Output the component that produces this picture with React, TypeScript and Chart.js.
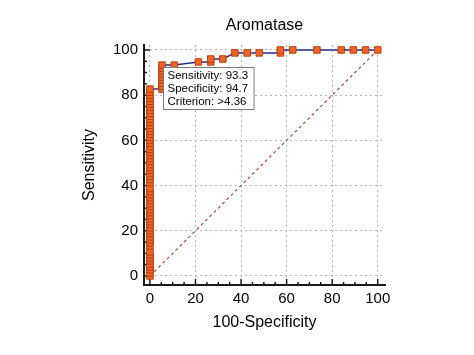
import React, { useEffect, useRef } from "react";
import { Chart, registerables } from "chart.js";

Chart.register(...registerables);

const chartTitle = "Aromatase";
const xAxisTitle = "100-Specificity";
const yAxisTitle = "Sensitivity";

const majorTicks = [0, 20, 40, 60, 80, 100];
const minorTicks = [0, 5, 10, 15, 20, 25, 30, 35, 40, 45, 50, 55, 60, 65, 70, 75, 80, 85, 90, 95, 100];

// ROC points at 100-Specificity = 0
const sensAtFpr0 = [
  0, 1.3, 2.7, 4.0, 5.3, 6.7, 8.0, 9.3, 10.7, 13.3, 14.7, 16.0, 17.3, 18.7, 20.0, 21.3,
  22.7, 24.0, 25.3, 26.7, 28.0, 29.3, 30.7, 32.0, 33.3, 34.7, 36.0, 37.3, 38.7, 41.3,
  42.7, 44.0, 45.3, 46.7, 48.0, 49.3, 50.7, 52.0, 53.3, 54.7, 56.0, 57.3, 58.7, 60.0,
  61.3, 62.7, 64.0, 65.3, 66.7, 68.0, 69.3, 70.7, 72.0, 73.3, 74.7, 76.0, 77.3, 78.7,
  80.0, 81.3, 82.7,
];
// ROC points at 100-Specificity = 5.3
const fprSecond = 5.3;
const sensAtFprSecond = [82.7, 84.0, 85.3, 86.7, 88.0, 89.3, 90.7, 92.0, 93.3];
// remaining ROC points
const tailFpr = [10.7, 21.3, 26.7, 26.7, 32.0, 37.3, 42.7, 48.0, 57.3, 57.3, 62.7, 73.3, 84.0, 89.3, 94.7, 100];
const tailSens = [93.3, 94.7, 94.7, 96.0, 96.0, 98.7, 98.7, 98.7, 98.7, 100, 100, 100, 100, 100, 100, 100];

const diagX = [0, 100];
const diagY = [0, 100];

const criterionFpr = 5.3;
const criterionSens = 93.3;
const annotationLines = ["Sensitivity: 93.3", "Specificity: 94.7", "Criterion: >4.36"];

const FONT = "'Liberation Sans', Arial, sans-serif";

const decorPlugin = {
  id: "decor",
  beforeDatasetsDraw(chart: any) {
    const { ctx, chartArea, scales } = chart;
    const x = scales.x;
    const y = scales.y;
    ctx.save();
    ctx.strokeStyle = "#1a1a1a";
    ctx.lineWidth = 1.5;
    minorTicks.forEach((v) => {
      const len = majorTicks.includes(v) ? 6 : 3;
      const px = x.getPixelForValue(v);
      ctx.beginPath();
      ctx.moveTo(px, chartArea.bottom);
      ctx.lineTo(px, chartArea.bottom - len);
      ctx.stroke();
      const py = y.getPixelForValue(v);
      ctx.beginPath();
      ctx.moveTo(chartArea.left, py);
      ctx.lineTo(chartArea.left + len, py);
      ctx.stroke();
    });
    ctx.restore();
  },
  afterDatasetsDraw(chart: any) {
    const { ctx, scales } = chart;
    const bx = Math.round(scales.x.getPixelForValue(criterionFpr)) + 1.5;
    const by = Math.round(scales.y.getPixelForValue(criterionSens)) + 2.5;
    ctx.save();
    ctx.font = `11.5px ${FONT}`;
    const w = Math.max(...annotationLines.map((t) => ctx.measureText(t).width)) + 10;
    const lh = 13;
    const h = lh * annotationLines.length + 3;
    ctx.fillStyle = "#ffffff";
    ctx.fillRect(bx, by, w, h);
    ctx.strokeStyle = "#7a7a7a";
    ctx.lineWidth = 1;
    ctx.strokeRect(bx, by, w, h);
    ctx.fillStyle = "#000000";
    ctx.textBaseline = "middle";
    ctx.textAlign = "left";
    annotationLines.forEach((t, i) => {
      ctx.fillText(t, bx + 4, by + 2 + lh / 2 + i * lh);
    });
    ctx.restore();
  },
};

export default function App() {
  const canvasRef = useRef<HTMLCanvasElement | null>(null);

  useEffect(() => {
    if (!canvasRef.current) return;
    const rocPoints = [
      ...sensAtFpr0.map((s) => ({ x: 0, y: s })),
      ...sensAtFprSecond.map((s) => ({ x: fprSecond, y: s })),
      ...tailFpr.map((f, i) => ({ x: f, y: tailSens[i] })),
    ];
    const diagPoints = diagX.map((v, i) => ({ x: v, y: diagY[i] }));

    const chart = new Chart(canvasRef.current, {
      type: "scatter",
      data: {
        datasets: [
          {
            data: rocPoints,
            showLine: true,
            borderColor: "#27288a",
            borderWidth: 1.5,
            pointStyle: "rect",
            pointRadius: 4.6,
            pointBackgroundColor: "#f06428",
            pointBorderColor: "#b8400f",
            pointBorderWidth: 1,
            clip: false as any,
          },
          {
            data: diagPoints,
            showLine: true,
            borderColor: "#b04a3a",
            borderWidth: 1.2,
            borderDash: [3, 3],
            pointRadius: 0,
          },
        ],
      },
      plugins: [decorPlugin],
      options: {
        responsive: true,
        maintainAspectRatio: false,
        animation: false,
        layout: { padding: { left: 0, right: 89, top: 0, bottom: 0 } },
        plugins: {
          legend: { display: false },
          tooltip: { enabled: false },
          title: {
            display: true,
            text: chartTitle,
            fullSize: false,
            color: "#000",
            font: { family: FONT, size: 16, weight: "normal", lineHeight: 1.2 },
            padding: { top: 16.4, bottom: 9.4 },
          },
        },
        scales: {
          x: {
            type: "linear",
            min: -2.6,
            max: 103.2,
            afterBuildTicks: (scale: any) => {
              scale.ticks = majorTicks.map((v) => ({ value: v }));
            },
            afterFit: (scale: any) => {
              scale.height = 70;
            },
            grid: {
              color: "#b8b8b8",
              lineWidth: 1,
              drawTicks: false,
            },
            border: { display: true, color: "#1a1a1a", width: 2, dash: [2, 3] },
            ticks: {
              color: "#000",
              font: { family: FONT, size: 15 },
              padding: 5,
              maxRotation: 0,
            },
            title: {
              display: true,
              text: xAxisTitle,
              color: "#000",
              font: { family: FONT, size: 16, lineHeight: 1.2 },
              padding: { top: 0, bottom: 22.4 },
            },
          },
          y: {
            type: "linear",
            min: -4,
            max: 102.2,
            afterBuildTicks: (scale: any) => {
              scale.ticks = majorTicks.map((v) => ({ value: v }));
            },
            afterFit: (scale: any) => {
              scale.width = 144;
            },
            grid: {
              color: "#b8b8b8",
              lineWidth: 1,
              drawTicks: false,
            },
            border: { display: true, color: "#1a1a1a", width: 2, dash: [2, 3] },
            ticks: {
              color: "#000",
              font: { family: FONT, size: 15 },
              padding: 6,
            },
            title: {
              display: true,
              text: yAxisTitle,
              color: "#000",
              font: { family: FONT, size: 16, lineHeight: 1.2 },
              padding: { top: 80.4, bottom: 0 },
            },
          },
        },
      } as any,
    });
    return () => chart.destroy();
  }, []);

  return (
    <div style={{ position: "fixed", left: 0, top: 0, width: 474, height: 355, background: "#fff" }}>
      <canvas ref={canvasRef} />
    </div>
  );
}
